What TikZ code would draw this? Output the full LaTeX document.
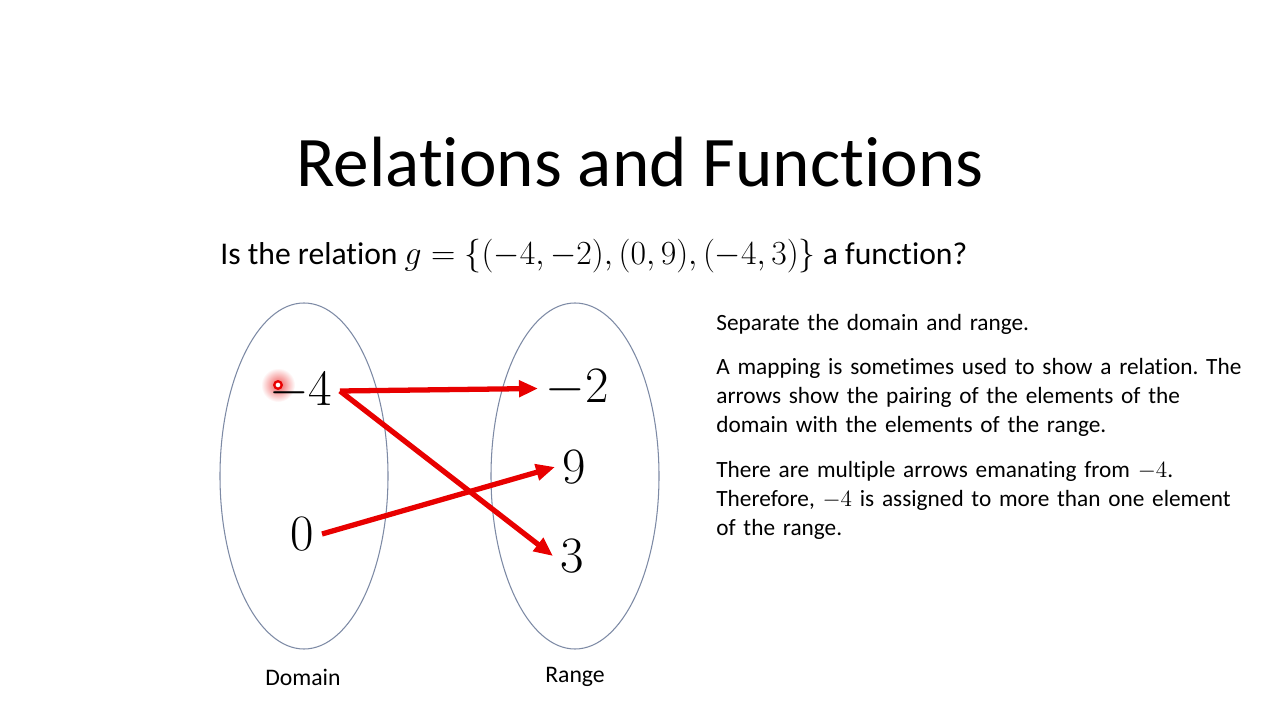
\documentclass[tikz,border=0pt]{standalone}
\usepackage{fix-cm}
\usepackage{amsmath}
\usepackage[no-math]{fontspec}
\setmainfont{Carlito}[Ligatures=NoCommon]
\usepackage{tikz}
\usetikzlibrary{arrows.meta, shapes.geometric}

\definecolor{setgray}{RGB}{125,138,165}
\definecolor{arrowred}{RGB}{232,0,0}
\frenchspacing

\begin{document}
\begin{tikzpicture}[>={Triangle[length=0.38cm, width=0.32cm]},
    num/.style={inner sep=0.15cm, font=\fontsize{29}{34}\selectfont},
    setoval/.style={draw=setgray, line width=0.6pt, ellipse, inner sep=0pt,
        minimum width=3.36cm, minimum height=6.92cm},
    maparrow/.style={->, draw=arrowred, line width=3pt},
    bodytext/.style={inner sep=0pt, align=left, text width=11cm,
        font=\fontsize{13.25}{16.3}\selectfont},
    setlabel/.style={inner sep=0pt, font=\fontsize{13.5}{16.3}\selectfont}]
            % Slide area
            \fill[white] (0,0) rectangle (25.6,14.4);
            \useasboundingbox (0,0) rectangle (25.6,14.4);
            
            % Title and question
            \node[inner sep=0pt, anchor=base, font=\fontsize{40.5}{48}\selectfont] (title) at (12.8,10.66) {Relations and Functions};
            \node[inner sep=0pt, anchor=base west, font=\fontsize{18}{22}\selectfont] (question) at (4.4,9.1)
                {Is the relation {\fontsize{19.2}{22}\selectfont$g=\{(-4,-2),(0,9),(-4,3)\}$} a function?};
            
            % Domain and range sets
            \node[setoval] (domain) at (6.08,4.88) {};
            \node[setoval] (range) at (11.5,4.88) {};
            \node[setlabel, anchor=base] (domainlabel) at (6.06,0.7) {Domain};
            \node[setlabel, anchor=base] (rangelabel) at (11.5,0.76) {Range};
            
            % Pointer
            \coordinate (pointer) at (5.56,6.7);
            \shade[inner color=arrowred!65, outer color=white] (pointer) circle (0.34);
            \draw[arrowred, line width=1.3pt, fill=white] (pointer) circle (0.075);
            
            % Elements
            \node[num, anchor=east] (m4) at (6.8,6.58) {$-4$};
            \node[num, anchor=east] (z0) at (6.44,3.72) {$0$};
            \node[num, anchor=west] (r2) at (10.76,6.63) {$-2$};
            \node[num, anchor=west] (r9) at (11.1,5.06) {$9$};
            \node[num, anchor=west] (r3) at (11.06,3.28) {$3$};
            
            % Mapping
            \draw[maparrow] (m4.east) -- (r2.west);
            \draw[maparrow] (m4.east) -- (r3.west);
            \draw[maparrow] (z0.east) -- (r9.west);
            
            % Notes
            \node[bodytext, anchor=base west] (note1) at (14.32,7.78) {Separate the domain and range.};
            \node[bodytext, anchor=base west] (note2) at (14.32,6.9)
                {A mapping is sometimes used to show a relation. The\\
                 arrows show the pairing of the elements of the\\
                 domain with the elements of the range.};
            \node[bodytext, anchor=base west] (note3) at (14.32,4.84)
                {There are multiple arrows emanating from $-4$.\\
                 Therefore, $-4$ is assigned to more than one element\\
                 of the range.};
        \end{tikzpicture}
\end{document}
